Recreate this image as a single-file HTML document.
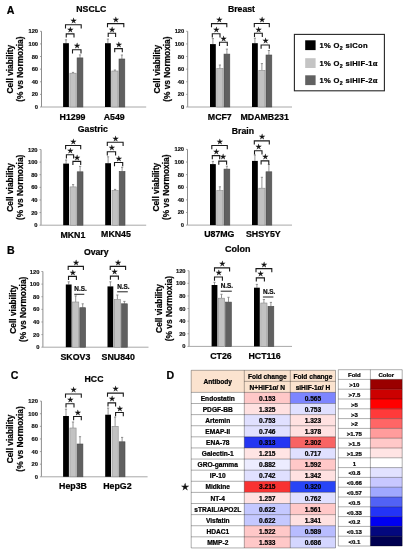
<!DOCTYPE html>
<html><head><meta charset="utf-8"><title>Figure</title>
<style>
html,body{margin:0;padding:0;background:#fff;}
body{width:408px;height:550px;overflow:hidden;}
svg{display:block;font-family:"Liberation Sans", Arial, sans-serif;}
</style></head>
<body>
<svg width="408" height="550" viewBox="0 0 408 550">
<rect x="0" y="0" width="408" height="550" fill="#fff"/>
<text x="0" y="0" font-size="8.35" font-weight="bold" text-anchor="middle" stroke="#000" stroke-width="0.22" transform="translate(13.40,69.15) rotate(-90)">Cell viability</text>
<text x="0" y="0" font-size="8.35" font-weight="bold" text-anchor="middle" stroke="#000" stroke-width="0.22" transform="translate(23.40,69.15) rotate(-90)">(% vs Normoxia)</text>
<line x1="41.50" y1="31.30" x2="41.50" y2="107.00" stroke="#808080" stroke-width="0.9"/>
<line x1="41.50" y1="107.00" x2="146.20" y2="107.00" stroke="#a8a8a8" stroke-width="1.0"/>
<line x1="40.00" y1="107.00" x2="41.50" y2="107.00" stroke="#8c8c8c" stroke-width="0.8"/>
<text x="38.10" y="109.00" font-size="5.8" font-weight="bold" text-anchor="end" fill="#111" stroke="#111" stroke-width="0.18" >0</text>
<line x1="40.00" y1="94.38" x2="41.50" y2="94.38" stroke="#8c8c8c" stroke-width="0.8"/>
<text x="38.10" y="96.38" font-size="5.8" font-weight="bold" text-anchor="end" fill="#111" stroke="#111" stroke-width="0.18" >20</text>
<line x1="40.00" y1="81.77" x2="41.50" y2="81.77" stroke="#8c8c8c" stroke-width="0.8"/>
<text x="38.10" y="83.77" font-size="5.8" font-weight="bold" text-anchor="end" fill="#111" stroke="#111" stroke-width="0.18" >40</text>
<line x1="40.00" y1="69.15" x2="41.50" y2="69.15" stroke="#8c8c8c" stroke-width="0.8"/>
<text x="38.10" y="71.15" font-size="5.8" font-weight="bold" text-anchor="end" fill="#111" stroke="#111" stroke-width="0.18" >60</text>
<line x1="40.00" y1="56.53" x2="41.50" y2="56.53" stroke="#8c8c8c" stroke-width="0.8"/>
<text x="38.10" y="58.53" font-size="5.8" font-weight="bold" text-anchor="end" fill="#111" stroke="#111" stroke-width="0.18" >80</text>
<line x1="40.00" y1="43.92" x2="41.50" y2="43.92" stroke="#8c8c8c" stroke-width="0.8"/>
<text x="38.10" y="45.92" font-size="5.8" font-weight="bold" text-anchor="end" fill="#111" stroke="#111" stroke-width="0.18" >100</text>
<line x1="40.00" y1="31.30" x2="41.50" y2="31.30" stroke="#8c8c8c" stroke-width="0.8"/>
<text x="38.10" y="33.30" font-size="5.8" font-weight="bold" text-anchor="end" fill="#111" stroke="#111" stroke-width="0.18" >120</text>
<text x="91.30" y="11.90" font-size="8.7" font-weight="bold" text-anchor="middle" fill="#000" stroke="#000" stroke-width="0.22" >NSCLC</text>
<line x1="66.00" y1="39.80" x2="66.00" y2="43.20" stroke="#7a7a7a" stroke-width="0.8"/>
<line x1="64.90" y1="39.80" x2="67.10" y2="39.80" stroke="#7a7a7a" stroke-width="0.8"/>
<rect x="63.10" y="43.20" width="5.80" height="63.80" fill="#000000"/>
<line x1="73.00" y1="72.40" x2="73.00" y2="73.20" stroke="#7a7a7a" stroke-width="0.8"/>
<line x1="71.90" y1="72.40" x2="74.10" y2="72.40" stroke="#7a7a7a" stroke-width="0.8"/>
<rect x="69.90" y="73.20" width="6.20" height="33.80" fill="#c2c2c2" stroke="#8a8a8a" stroke-width="0.6"/>
<line x1="80.00" y1="54.90" x2="80.00" y2="57.90" stroke="#7a7a7a" stroke-width="0.8"/>
<line x1="78.90" y1="54.90" x2="81.10" y2="54.90" stroke="#7a7a7a" stroke-width="0.8"/>
<rect x="77.10" y="57.90" width="5.80" height="49.10" fill="#606060" stroke="#4a4a4a" stroke-width="0.6"/>
<path d="M66.25,37.60 V33.90 H74.00 V37.60" fill="none" stroke="#1a1a1a" stroke-width="1.1"/>
<text x="70.42" y="32.28" font-size="6.9" font-family='"DejaVu Sans", sans-serif' text-anchor="middle" fill="#111" stroke="#111" stroke-width="0.35">&#9733;</text>
<path d="M65.50,28.40 V24.70 H81.20 V28.40" fill="none" stroke="#1a1a1a" stroke-width="1.1"/>
<text x="73.65" y="23.08" font-size="6.9" font-family='"DejaVu Sans", sans-serif' text-anchor="middle" fill="#111" stroke="#111" stroke-width="0.35">&#9733;</text>
<path d="M72.50,53.40 V49.70 H81.00 V53.40" fill="none" stroke="#1a1a1a" stroke-width="1.1"/>
<text x="77.05" y="48.08" font-size="6.9" font-family='"DejaVu Sans", sans-serif' text-anchor="middle" fill="#111" stroke="#111" stroke-width="0.35">&#9733;</text>
<text x="72.50" y="119.50" font-size="8.8" font-weight="bold" text-anchor="middle" fill="#000" stroke="#000" stroke-width="0.22" >H1299</text>
<line x1="107.90" y1="39.10" x2="107.90" y2="43.20" stroke="#7a7a7a" stroke-width="0.8"/>
<line x1="106.80" y1="39.10" x2="109.00" y2="39.10" stroke="#7a7a7a" stroke-width="0.8"/>
<rect x="105.00" y="43.20" width="5.80" height="63.80" fill="#000000"/>
<line x1="114.90" y1="70.00" x2="114.90" y2="71.00" stroke="#7a7a7a" stroke-width="0.8"/>
<line x1="113.80" y1="70.00" x2="116.00" y2="70.00" stroke="#7a7a7a" stroke-width="0.8"/>
<rect x="111.80" y="71.00" width="6.20" height="36.00" fill="#c2c2c2" stroke="#8a8a8a" stroke-width="0.6"/>
<line x1="121.90" y1="55.00" x2="121.90" y2="59.00" stroke="#7a7a7a" stroke-width="0.8"/>
<line x1="120.80" y1="55.00" x2="123.00" y2="55.00" stroke="#7a7a7a" stroke-width="0.8"/>
<rect x="119.00" y="59.00" width="5.80" height="48.00" fill="#606060" stroke="#4a4a4a" stroke-width="0.6"/>
<path d="M108.20,36.90 V33.20 H115.60 V36.90" fill="none" stroke="#1a1a1a" stroke-width="1.1"/>
<text x="112.20" y="31.58" font-size="6.9" font-family='"DejaVu Sans", sans-serif' text-anchor="middle" fill="#111" stroke="#111" stroke-width="0.35">&#9733;</text>
<path d="M107.50,27.30 V23.60 H123.80 V27.30" fill="none" stroke="#1a1a1a" stroke-width="1.1"/>
<text x="115.95" y="21.98" font-size="6.9" font-family='"DejaVu Sans", sans-serif' text-anchor="middle" fill="#111" stroke="#111" stroke-width="0.35">&#9733;</text>
<path d="M114.70,52.30 V48.60 H122.30 V52.30" fill="none" stroke="#1a1a1a" stroke-width="1.1"/>
<text x="118.80" y="46.98" font-size="6.9" font-family='"DejaVu Sans", sans-serif' text-anchor="middle" fill="#111" stroke="#111" stroke-width="0.35">&#9733;</text>
<text x="114.20" y="119.50" font-size="8.8" font-weight="bold" text-anchor="middle" fill="#000" stroke="#000" stroke-width="0.22" >A549</text>
<text x="0" y="0" font-size="8.35" font-weight="bold" text-anchor="middle" stroke="#000" stroke-width="0.22" transform="translate(159.60,69.15) rotate(-90)">Cell viability</text>
<text x="0" y="0" font-size="8.35" font-weight="bold" text-anchor="middle" stroke="#000" stroke-width="0.22" transform="translate(169.60,69.15) rotate(-90)">(% vs Normoxia)</text>
<line x1="187.70" y1="31.30" x2="187.70" y2="107.00" stroke="#808080" stroke-width="0.9"/>
<line x1="187.70" y1="107.00" x2="292.00" y2="107.00" stroke="#a8a8a8" stroke-width="1.0"/>
<line x1="186.20" y1="107.00" x2="187.70" y2="107.00" stroke="#8c8c8c" stroke-width="0.8"/>
<text x="184.30" y="109.00" font-size="5.8" font-weight="bold" text-anchor="end" fill="#111" stroke="#111" stroke-width="0.18" >0</text>
<line x1="186.20" y1="94.38" x2="187.70" y2="94.38" stroke="#8c8c8c" stroke-width="0.8"/>
<text x="184.30" y="96.38" font-size="5.8" font-weight="bold" text-anchor="end" fill="#111" stroke="#111" stroke-width="0.18" >20</text>
<line x1="186.20" y1="81.77" x2="187.70" y2="81.77" stroke="#8c8c8c" stroke-width="0.8"/>
<text x="184.30" y="83.77" font-size="5.8" font-weight="bold" text-anchor="end" fill="#111" stroke="#111" stroke-width="0.18" >40</text>
<line x1="186.20" y1="69.15" x2="187.70" y2="69.15" stroke="#8c8c8c" stroke-width="0.8"/>
<text x="184.30" y="71.15" font-size="5.8" font-weight="bold" text-anchor="end" fill="#111" stroke="#111" stroke-width="0.18" >60</text>
<line x1="186.20" y1="56.53" x2="187.70" y2="56.53" stroke="#8c8c8c" stroke-width="0.8"/>
<text x="184.30" y="58.53" font-size="5.8" font-weight="bold" text-anchor="end" fill="#111" stroke="#111" stroke-width="0.18" >80</text>
<line x1="186.20" y1="43.92" x2="187.70" y2="43.92" stroke="#8c8c8c" stroke-width="0.8"/>
<text x="184.30" y="45.92" font-size="5.8" font-weight="bold" text-anchor="end" fill="#111" stroke="#111" stroke-width="0.18" >100</text>
<line x1="186.20" y1="31.30" x2="187.70" y2="31.30" stroke="#8c8c8c" stroke-width="0.8"/>
<text x="184.30" y="33.30" font-size="5.8" font-weight="bold" text-anchor="end" fill="#111" stroke="#111" stroke-width="0.18" >120</text>
<text x="241.50" y="11.90" font-size="8.7" font-weight="bold" text-anchor="middle" fill="#000" stroke="#000" stroke-width="0.22" >Breast</text>
<line x1="212.90" y1="38.60" x2="212.90" y2="44.10" stroke="#7a7a7a" stroke-width="0.8"/>
<line x1="211.80" y1="38.60" x2="214.00" y2="38.60" stroke="#7a7a7a" stroke-width="0.8"/>
<rect x="210.00" y="44.10" width="5.80" height="62.90" fill="#000000"/>
<line x1="219.90" y1="65.00" x2="219.90" y2="68.60" stroke="#7a7a7a" stroke-width="0.8"/>
<line x1="218.80" y1="65.00" x2="221.00" y2="65.00" stroke="#7a7a7a" stroke-width="0.8"/>
<rect x="216.80" y="68.60" width="6.20" height="38.40" fill="#c2c2c2" stroke="#8a8a8a" stroke-width="0.6"/>
<line x1="226.90" y1="49.10" x2="226.90" y2="54.10" stroke="#7a7a7a" stroke-width="0.8"/>
<line x1="225.80" y1="49.10" x2="228.00" y2="49.10" stroke="#7a7a7a" stroke-width="0.8"/>
<rect x="224.00" y="54.10" width="5.80" height="52.90" fill="#606060" stroke="#4a4a4a" stroke-width="0.6"/>
<path d="M212.30,37.50 V33.80 H220.00 V37.50" fill="none" stroke="#1a1a1a" stroke-width="1.1"/>
<text x="216.45" y="32.18" font-size="6.9" font-family='"DejaVu Sans", sans-serif' text-anchor="middle" fill="#111" stroke="#111" stroke-width="0.35">&#9733;</text>
<path d="M211.50,27.30 V23.60 H226.80 V27.30" fill="none" stroke="#1a1a1a" stroke-width="1.1"/>
<text x="219.45" y="21.98" font-size="6.9" font-family='"DejaVu Sans", sans-serif' text-anchor="middle" fill="#111" stroke="#111" stroke-width="0.35">&#9733;</text>
<path d="M219.50,46.00 V42.30 H227.30 V46.00" fill="none" stroke="#1a1a1a" stroke-width="1.1"/>
<text x="223.70" y="40.68" font-size="6.9" font-family='"DejaVu Sans", sans-serif' text-anchor="middle" fill="#111" stroke="#111" stroke-width="0.35">&#9733;</text>
<text x="219.80" y="119.50" font-size="8.8" font-weight="bold" text-anchor="middle" fill="#000" stroke="#000" stroke-width="0.22" >MCF7</text>
<line x1="254.90" y1="38.20" x2="254.90" y2="43.20" stroke="#7a7a7a" stroke-width="0.8"/>
<line x1="253.80" y1="38.20" x2="256.00" y2="38.20" stroke="#7a7a7a" stroke-width="0.8"/>
<rect x="252.00" y="43.20" width="5.80" height="63.80" fill="#000000"/>
<line x1="261.90" y1="63.60" x2="261.90" y2="70.40" stroke="#7a7a7a" stroke-width="0.8"/>
<line x1="260.80" y1="63.60" x2="263.00" y2="63.60" stroke="#7a7a7a" stroke-width="0.8"/>
<rect x="258.80" y="70.40" width="6.20" height="36.60" fill="#c2c2c2" stroke="#8a8a8a" stroke-width="0.6"/>
<line x1="268.90" y1="50.50" x2="268.90" y2="55.00" stroke="#7a7a7a" stroke-width="0.8"/>
<line x1="267.80" y1="50.50" x2="270.00" y2="50.50" stroke="#7a7a7a" stroke-width="0.8"/>
<rect x="266.00" y="55.00" width="5.80" height="52.00" fill="#606060" stroke="#4a4a4a" stroke-width="0.6"/>
<path d="M254.50,36.90 V33.20 H262.30 V36.90" fill="none" stroke="#1a1a1a" stroke-width="1.1"/>
<text x="258.70" y="31.58" font-size="6.9" font-family='"DejaVu Sans", sans-serif' text-anchor="middle" fill="#111" stroke="#111" stroke-width="0.35">&#9733;</text>
<path d="M254.30,27.20 V23.50 H269.30 V27.20" fill="none" stroke="#1a1a1a" stroke-width="1.1"/>
<text x="262.10" y="21.88" font-size="6.9" font-family='"DejaVu Sans", sans-serif' text-anchor="middle" fill="#111" stroke="#111" stroke-width="0.35">&#9733;</text>
<path d="M261.10,48.70 V45.00 H269.30 V48.70" fill="none" stroke="#1a1a1a" stroke-width="1.1"/>
<text x="265.50" y="43.38" font-size="6.9" font-family='"DejaVu Sans", sans-serif' text-anchor="middle" fill="#111" stroke="#111" stroke-width="0.35">&#9733;</text>
<text x="264.70" y="119.50" font-size="8.8" font-weight="bold" text-anchor="middle" fill="#000" stroke="#000" stroke-width="0.22" >MDAMB231</text>
<text x="0" y="0" font-size="8.35" font-weight="bold" text-anchor="middle" stroke="#000" stroke-width="0.22" transform="translate(12.90,187.35) rotate(-90)">Cell viability</text>
<text x="0" y="0" font-size="8.35" font-weight="bold" text-anchor="middle" stroke="#000" stroke-width="0.22" transform="translate(22.90,187.35) rotate(-90)">(% vs Normoxia)</text>
<line x1="41.00" y1="149.50" x2="41.00" y2="225.20" stroke="#808080" stroke-width="0.9"/>
<line x1="41.00" y1="225.20" x2="146.20" y2="225.20" stroke="#a8a8a8" stroke-width="1.0"/>
<line x1="39.50" y1="225.20" x2="41.00" y2="225.20" stroke="#8c8c8c" stroke-width="0.8"/>
<text x="37.60" y="227.20" font-size="5.8" font-weight="bold" text-anchor="end" fill="#111" stroke="#111" stroke-width="0.18" >0</text>
<line x1="39.50" y1="212.58" x2="41.00" y2="212.58" stroke="#8c8c8c" stroke-width="0.8"/>
<text x="37.60" y="214.58" font-size="5.8" font-weight="bold" text-anchor="end" fill="#111" stroke="#111" stroke-width="0.18" >20</text>
<line x1="39.50" y1="199.97" x2="41.00" y2="199.97" stroke="#8c8c8c" stroke-width="0.8"/>
<text x="37.60" y="201.97" font-size="5.8" font-weight="bold" text-anchor="end" fill="#111" stroke="#111" stroke-width="0.18" >40</text>
<line x1="39.50" y1="187.35" x2="41.00" y2="187.35" stroke="#8c8c8c" stroke-width="0.8"/>
<text x="37.60" y="189.35" font-size="5.8" font-weight="bold" text-anchor="end" fill="#111" stroke="#111" stroke-width="0.18" >60</text>
<line x1="39.50" y1="174.73" x2="41.00" y2="174.73" stroke="#8c8c8c" stroke-width="0.8"/>
<text x="37.60" y="176.73" font-size="5.8" font-weight="bold" text-anchor="end" fill="#111" stroke="#111" stroke-width="0.18" >80</text>
<line x1="39.50" y1="162.12" x2="41.00" y2="162.12" stroke="#8c8c8c" stroke-width="0.8"/>
<text x="37.60" y="164.12" font-size="5.8" font-weight="bold" text-anchor="end" fill="#111" stroke="#111" stroke-width="0.18" >100</text>
<line x1="39.50" y1="149.50" x2="41.00" y2="149.50" stroke="#8c8c8c" stroke-width="0.8"/>
<text x="37.60" y="151.50" font-size="5.8" font-weight="bold" text-anchor="end" fill="#111" stroke="#111" stroke-width="0.18" >120</text>
<text x="92.80" y="132.30" font-size="8.7" font-weight="bold" text-anchor="middle" fill="#000" stroke="#000" stroke-width="0.22" >Gastric</text>
<line x1="66.10" y1="160.00" x2="66.10" y2="163.60" stroke="#7a7a7a" stroke-width="0.8"/>
<line x1="65.00" y1="160.00" x2="67.20" y2="160.00" stroke="#7a7a7a" stroke-width="0.8"/>
<rect x="63.20" y="163.60" width="5.80" height="61.60" fill="#000000"/>
<line x1="73.10" y1="184.60" x2="73.10" y2="186.90" stroke="#7a7a7a" stroke-width="0.8"/>
<line x1="72.00" y1="184.60" x2="74.20" y2="184.60" stroke="#7a7a7a" stroke-width="0.8"/>
<rect x="70.00" y="186.90" width="6.20" height="38.30" fill="#c2c2c2" stroke="#8a8a8a" stroke-width="0.6"/>
<line x1="80.10" y1="166.40" x2="80.10" y2="171.80" stroke="#7a7a7a" stroke-width="0.8"/>
<line x1="79.00" y1="166.40" x2="81.20" y2="166.40" stroke="#7a7a7a" stroke-width="0.8"/>
<rect x="77.20" y="171.80" width="5.80" height="53.40" fill="#606060" stroke="#4a4a4a" stroke-width="0.6"/>
<path d="M66.40,158.40 V154.70 H73.60 V158.40" fill="none" stroke="#1a1a1a" stroke-width="1.1"/>
<text x="70.30" y="153.08" font-size="6.9" font-family='"DejaVu Sans", sans-serif' text-anchor="middle" fill="#111" stroke="#111" stroke-width="0.35">&#9733;</text>
<path d="M65.60,149.20 V145.50 H80.70 V149.20" fill="none" stroke="#1a1a1a" stroke-width="1.1"/>
<text x="73.45" y="143.88" font-size="6.9" font-family='"DejaVu Sans", sans-serif' text-anchor="middle" fill="#111" stroke="#111" stroke-width="0.35">&#9733;</text>
<path d="M72.90,165.10 V161.40 H80.70 V165.10" fill="none" stroke="#1a1a1a" stroke-width="1.1"/>
<text x="77.10" y="159.78" font-size="6.9" font-family='"DejaVu Sans", sans-serif' text-anchor="middle" fill="#111" stroke="#111" stroke-width="0.35">&#9733;</text>
<text x="72.90" y="237.90" font-size="8.8" font-weight="bold" text-anchor="middle" fill="#000" stroke="#000" stroke-width="0.22" >MKN1</text>
<line x1="108.10" y1="156.80" x2="108.10" y2="163.20" stroke="#7a7a7a" stroke-width="0.8"/>
<line x1="107.00" y1="156.80" x2="109.20" y2="156.80" stroke="#7a7a7a" stroke-width="0.8"/>
<rect x="105.20" y="163.20" width="5.80" height="62.00" fill="#000000"/>
<line x1="115.10" y1="189.40" x2="115.10" y2="190.60" stroke="#7a7a7a" stroke-width="0.8"/>
<line x1="114.00" y1="189.40" x2="116.20" y2="189.40" stroke="#7a7a7a" stroke-width="0.8"/>
<rect x="112.00" y="190.60" width="6.20" height="34.60" fill="#c2c2c2" stroke="#8a8a8a" stroke-width="0.6"/>
<line x1="122.10" y1="167.30" x2="122.10" y2="171.40" stroke="#7a7a7a" stroke-width="0.8"/>
<line x1="121.00" y1="167.30" x2="123.20" y2="167.30" stroke="#7a7a7a" stroke-width="0.8"/>
<rect x="119.20" y="171.40" width="5.80" height="53.80" fill="#606060" stroke="#4a4a4a" stroke-width="0.6"/>
<path d="M107.30,155.50 V151.80 H115.60 V155.50" fill="none" stroke="#1a1a1a" stroke-width="1.1"/>
<text x="111.75" y="150.18" font-size="6.9" font-family='"DejaVu Sans", sans-serif' text-anchor="middle" fill="#111" stroke="#111" stroke-width="0.35">&#9733;</text>
<path d="M107.30,146.00 V142.30 H123.10 V146.00" fill="none" stroke="#1a1a1a" stroke-width="1.1"/>
<text x="115.50" y="140.68" font-size="6.9" font-family='"DejaVu Sans", sans-serif' text-anchor="middle" fill="#111" stroke="#111" stroke-width="0.35">&#9733;</text>
<path d="M114.50,166.20 V162.50 H122.70 V166.20" fill="none" stroke="#1a1a1a" stroke-width="1.1"/>
<text x="118.90" y="160.88" font-size="6.9" font-family='"DejaVu Sans", sans-serif' text-anchor="middle" fill="#111" stroke="#111" stroke-width="0.35">&#9733;</text>
<text x="116.00" y="236.50" font-size="8.8" font-weight="bold" text-anchor="middle" fill="#000" stroke="#000" stroke-width="0.22" >MKN45</text>
<text x="0" y="0" font-size="8.35" font-weight="bold" text-anchor="middle" stroke="#000" stroke-width="0.22" transform="translate(159.40,187.25) rotate(-90)">Cell viability</text>
<text x="0" y="0" font-size="8.35" font-weight="bold" text-anchor="middle" stroke="#000" stroke-width="0.22" transform="translate(169.40,187.25) rotate(-90)">(% vs Normoxia)</text>
<line x1="187.50" y1="149.40" x2="187.50" y2="225.10" stroke="#808080" stroke-width="0.9"/>
<line x1="187.50" y1="225.10" x2="292.00" y2="225.10" stroke="#a8a8a8" stroke-width="1.0"/>
<line x1="186.00" y1="225.10" x2="187.50" y2="225.10" stroke="#8c8c8c" stroke-width="0.8"/>
<text x="184.10" y="227.10" font-size="5.8" font-weight="bold" text-anchor="end" fill="#111" stroke="#111" stroke-width="0.18" >0</text>
<line x1="186.00" y1="212.48" x2="187.50" y2="212.48" stroke="#8c8c8c" stroke-width="0.8"/>
<text x="184.10" y="214.48" font-size="5.8" font-weight="bold" text-anchor="end" fill="#111" stroke="#111" stroke-width="0.18" >20</text>
<line x1="186.00" y1="199.87" x2="187.50" y2="199.87" stroke="#8c8c8c" stroke-width="0.8"/>
<text x="184.10" y="201.87" font-size="5.8" font-weight="bold" text-anchor="end" fill="#111" stroke="#111" stroke-width="0.18" >40</text>
<line x1="186.00" y1="187.25" x2="187.50" y2="187.25" stroke="#8c8c8c" stroke-width="0.8"/>
<text x="184.10" y="189.25" font-size="5.8" font-weight="bold" text-anchor="end" fill="#111" stroke="#111" stroke-width="0.18" >60</text>
<line x1="186.00" y1="174.63" x2="187.50" y2="174.63" stroke="#8c8c8c" stroke-width="0.8"/>
<text x="184.10" y="176.63" font-size="5.8" font-weight="bold" text-anchor="end" fill="#111" stroke="#111" stroke-width="0.18" >80</text>
<line x1="186.00" y1="162.02" x2="187.50" y2="162.02" stroke="#8c8c8c" stroke-width="0.8"/>
<text x="184.10" y="164.02" font-size="5.8" font-weight="bold" text-anchor="end" fill="#111" stroke="#111" stroke-width="0.18" >100</text>
<line x1="186.00" y1="149.40" x2="187.50" y2="149.40" stroke="#8c8c8c" stroke-width="0.8"/>
<text x="184.10" y="151.40" font-size="5.8" font-weight="bold" text-anchor="end" fill="#111" stroke="#111" stroke-width="0.18" >120</text>
<text x="242.90" y="134.20" font-size="8.7" font-weight="bold" text-anchor="middle" fill="#000" stroke="#000" stroke-width="0.22" >Brain</text>
<line x1="212.90" y1="161.40" x2="212.90" y2="164.10" stroke="#7a7a7a" stroke-width="0.8"/>
<line x1="211.80" y1="161.40" x2="214.00" y2="161.40" stroke="#7a7a7a" stroke-width="0.8"/>
<rect x="210.00" y="164.10" width="5.80" height="61.00" fill="#000000"/>
<line x1="219.90" y1="186.80" x2="219.90" y2="190.60" stroke="#7a7a7a" stroke-width="0.8"/>
<line x1="218.80" y1="186.80" x2="221.00" y2="186.80" stroke="#7a7a7a" stroke-width="0.8"/>
<rect x="216.80" y="190.60" width="6.20" height="34.50" fill="#c2c2c2" stroke="#8a8a8a" stroke-width="0.6"/>
<line x1="226.90" y1="166.20" x2="226.90" y2="169.10" stroke="#7a7a7a" stroke-width="0.8"/>
<line x1="225.80" y1="166.20" x2="228.00" y2="166.20" stroke="#7a7a7a" stroke-width="0.8"/>
<rect x="224.00" y="169.10" width="5.80" height="56.00" fill="#606060" stroke="#4a4a4a" stroke-width="0.6"/>
<path d="M212.30,159.30 V155.60 H219.70 V159.30" fill="none" stroke="#1a1a1a" stroke-width="1.1"/>
<text x="216.30" y="153.98" font-size="6.9" font-family='"DejaVu Sans", sans-serif' text-anchor="middle" fill="#111" stroke="#111" stroke-width="0.35">&#9733;</text>
<path d="M211.80,149.20 V145.50 H227.30 V149.20" fill="none" stroke="#1a1a1a" stroke-width="1.1"/>
<text x="219.85" y="143.88" font-size="6.9" font-family='"DejaVu Sans", sans-serif' text-anchor="middle" fill="#111" stroke="#111" stroke-width="0.35">&#9733;</text>
<path d="M218.80,164.80 V161.10 H226.60 V164.80" fill="none" stroke="#1a1a1a" stroke-width="1.1"/>
<text x="223.00" y="159.48" font-size="6.9" font-family='"DejaVu Sans", sans-serif' text-anchor="middle" fill="#111" stroke="#111" stroke-width="0.35">&#9733;</text>
<text x="219.30" y="237.30" font-size="8.8" font-weight="bold" text-anchor="middle" fill="#000" stroke="#000" stroke-width="0.22" >U87MG</text>
<line x1="254.90" y1="155.00" x2="254.90" y2="160.90" stroke="#7a7a7a" stroke-width="0.8"/>
<line x1="253.80" y1="155.00" x2="256.00" y2="155.00" stroke="#7a7a7a" stroke-width="0.8"/>
<rect x="252.00" y="160.90" width="5.80" height="64.20" fill="#000000"/>
<line x1="261.90" y1="177.30" x2="261.90" y2="188.20" stroke="#7a7a7a" stroke-width="0.8"/>
<line x1="260.80" y1="177.30" x2="263.00" y2="177.30" stroke="#7a7a7a" stroke-width="0.8"/>
<rect x="258.80" y="188.20" width="6.20" height="36.90" fill="#c2c2c2" stroke="#8a8a8a" stroke-width="0.6"/>
<line x1="268.90" y1="164.50" x2="268.90" y2="171.80" stroke="#7a7a7a" stroke-width="0.8"/>
<line x1="267.80" y1="164.50" x2="270.00" y2="164.50" stroke="#7a7a7a" stroke-width="0.8"/>
<rect x="266.00" y="171.80" width="5.80" height="53.30" fill="#606060" stroke="#4a4a4a" stroke-width="0.6"/>
<path d="M254.50,154.40 V150.70 H262.00 V154.40" fill="none" stroke="#1a1a1a" stroke-width="1.1"/>
<text x="258.55" y="149.08" font-size="6.9" font-family='"DejaVu Sans", sans-serif' text-anchor="middle" fill="#111" stroke="#111" stroke-width="0.35">&#9733;</text>
<path d="M254.30,144.60 V140.90 H269.30 V144.60" fill="none" stroke="#1a1a1a" stroke-width="1.1"/>
<text x="262.10" y="139.28" font-size="6.9" font-family='"DejaVu Sans", sans-serif' text-anchor="middle" fill="#111" stroke="#111" stroke-width="0.35">&#9733;</text>
<path d="M261.10,164.60 V160.90 H268.80 V164.60" fill="none" stroke="#1a1a1a" stroke-width="1.1"/>
<text x="265.25" y="159.28" font-size="6.9" font-family='"DejaVu Sans", sans-serif' text-anchor="middle" fill="#111" stroke="#111" stroke-width="0.35">&#9733;</text>
<text x="263.30" y="237.30" font-size="8.8" font-weight="bold" text-anchor="middle" fill="#000" stroke="#000" stroke-width="0.22" >SHSY5Y</text>
<text x="0" y="0" font-size="8.35" font-weight="bold" text-anchor="middle" stroke="#000" stroke-width="0.22" transform="translate(15.60,309.35) rotate(-90)">Cell viability</text>
<text x="0" y="0" font-size="8.35" font-weight="bold" text-anchor="middle" stroke="#000" stroke-width="0.22" transform="translate(25.70,309.35) rotate(-90)">(% vs Normoxia)</text>
<line x1="42.90" y1="271.50" x2="42.90" y2="347.20" stroke="#808080" stroke-width="0.9"/>
<line x1="42.90" y1="347.20" x2="148.50" y2="347.20" stroke="#a8a8a8" stroke-width="1.0"/>
<line x1="41.40" y1="347.20" x2="42.90" y2="347.20" stroke="#8c8c8c" stroke-width="0.8"/>
<text x="39.50" y="349.20" font-size="5.8" font-weight="bold" text-anchor="end" fill="#111" stroke="#111" stroke-width="0.18" >0</text>
<line x1="41.40" y1="334.58" x2="42.90" y2="334.58" stroke="#8c8c8c" stroke-width="0.8"/>
<text x="39.50" y="336.58" font-size="5.8" font-weight="bold" text-anchor="end" fill="#111" stroke="#111" stroke-width="0.18" >20</text>
<line x1="41.40" y1="321.97" x2="42.90" y2="321.97" stroke="#8c8c8c" stroke-width="0.8"/>
<text x="39.50" y="323.97" font-size="5.8" font-weight="bold" text-anchor="end" fill="#111" stroke="#111" stroke-width="0.18" >40</text>
<line x1="41.40" y1="309.35" x2="42.90" y2="309.35" stroke="#8c8c8c" stroke-width="0.8"/>
<text x="39.50" y="311.35" font-size="5.8" font-weight="bold" text-anchor="end" fill="#111" stroke="#111" stroke-width="0.18" >60</text>
<line x1="41.40" y1="296.73" x2="42.90" y2="296.73" stroke="#8c8c8c" stroke-width="0.8"/>
<text x="39.50" y="298.73" font-size="5.8" font-weight="bold" text-anchor="end" fill="#111" stroke="#111" stroke-width="0.18" >80</text>
<line x1="41.40" y1="284.12" x2="42.90" y2="284.12" stroke="#8c8c8c" stroke-width="0.8"/>
<text x="39.50" y="286.12" font-size="5.8" font-weight="bold" text-anchor="end" fill="#111" stroke="#111" stroke-width="0.18" >100</text>
<line x1="41.40" y1="271.50" x2="42.90" y2="271.50" stroke="#8c8c8c" stroke-width="0.8"/>
<text x="39.50" y="273.50" font-size="5.8" font-weight="bold" text-anchor="end" fill="#111" stroke="#111" stroke-width="0.18" >120</text>
<text x="96.20" y="255.40" font-size="8.7" font-weight="bold" text-anchor="middle" fill="#000" stroke="#000" stroke-width="0.22" >Ovary</text>
<line x1="68.70" y1="281.80" x2="68.70" y2="284.50" stroke="#7a7a7a" stroke-width="0.8"/>
<line x1="67.60" y1="281.80" x2="69.80" y2="281.80" stroke="#7a7a7a" stroke-width="0.8"/>
<rect x="65.80" y="284.50" width="5.80" height="62.70" fill="#000000"/>
<line x1="75.70" y1="295.90" x2="75.70" y2="302.00" stroke="#7a7a7a" stroke-width="0.8"/>
<line x1="74.60" y1="295.90" x2="76.80" y2="295.90" stroke="#7a7a7a" stroke-width="0.8"/>
<rect x="72.60" y="302.00" width="6.20" height="45.20" fill="#c2c2c2" stroke="#8a8a8a" stroke-width="0.6"/>
<line x1="82.70" y1="303.80" x2="82.70" y2="307.70" stroke="#7a7a7a" stroke-width="0.8"/>
<line x1="81.60" y1="303.80" x2="83.80" y2="303.80" stroke="#7a7a7a" stroke-width="0.8"/>
<rect x="79.80" y="307.70" width="5.80" height="39.50" fill="#606060" stroke="#4a4a4a" stroke-width="0.6"/>
<path d="M68.50,280.10 V276.40 H76.40 V280.10" fill="none" stroke="#1a1a1a" stroke-width="1.1"/>
<text x="72.75" y="274.78" font-size="6.9" font-family='"DejaVu Sans", sans-serif' text-anchor="middle" fill="#111" stroke="#111" stroke-width="0.35">&#9733;</text>
<path d="M68.20,270.10 V266.40 H83.40 V270.10" fill="none" stroke="#1a1a1a" stroke-width="1.1"/>
<text x="76.10" y="264.78" font-size="6.9" font-family='"DejaVu Sans", sans-serif' text-anchor="middle" fill="#111" stroke="#111" stroke-width="0.35">&#9733;</text>
<line x1="74.30" y1="294.30" x2="84.30" y2="294.30" stroke="#222" stroke-width="1.0"/>
<text x="74.30" y="291.30" font-size="6.4" font-weight="bold" text-anchor="start" fill="#111" stroke="#111" stroke-width="0.22" >N.S.</text>
<text x="75.40" y="359.80" font-size="8.8" font-weight="bold" text-anchor="middle" fill="#000" stroke="#000" stroke-width="0.22" >SKOV3</text>
<line x1="110.40" y1="281.80" x2="110.40" y2="286.40" stroke="#7a7a7a" stroke-width="0.8"/>
<line x1="109.30" y1="281.80" x2="111.50" y2="281.80" stroke="#7a7a7a" stroke-width="0.8"/>
<rect x="107.50" y="286.40" width="5.80" height="60.80" fill="#000000"/>
<line x1="117.40" y1="295.00" x2="117.40" y2="299.50" stroke="#7a7a7a" stroke-width="0.8"/>
<line x1="116.30" y1="295.00" x2="118.50" y2="295.00" stroke="#7a7a7a" stroke-width="0.8"/>
<rect x="114.30" y="299.50" width="6.20" height="47.70" fill="#c2c2c2" stroke="#8a8a8a" stroke-width="0.6"/>
<line x1="124.40" y1="301.40" x2="124.40" y2="303.80" stroke="#7a7a7a" stroke-width="0.8"/>
<line x1="123.30" y1="301.40" x2="125.50" y2="301.40" stroke="#7a7a7a" stroke-width="0.8"/>
<rect x="121.50" y="303.80" width="5.80" height="43.40" fill="#606060" stroke="#4a4a4a" stroke-width="0.6"/>
<path d="M110.40,279.80 V276.10 H118.40 V279.80" fill="none" stroke="#1a1a1a" stroke-width="1.1"/>
<text x="114.70" y="274.48" font-size="6.9" font-family='"DejaVu Sans", sans-serif' text-anchor="middle" fill="#111" stroke="#111" stroke-width="0.35">&#9733;</text>
<path d="M110.20,270.10 V266.40 H125.60 V270.10" fill="none" stroke="#1a1a1a" stroke-width="1.1"/>
<text x="118.20" y="264.78" font-size="6.9" font-family='"DejaVu Sans", sans-serif' text-anchor="middle" fill="#111" stroke="#111" stroke-width="0.35">&#9733;</text>
<line x1="117.20" y1="291.80" x2="127.80" y2="291.80" stroke="#222" stroke-width="1.0"/>
<text x="117.20" y="288.80" font-size="6.4" font-weight="bold" text-anchor="start" fill="#111" stroke="#111" stroke-width="0.22" >N.S.</text>
<text x="118.20" y="359.80" font-size="8.8" font-weight="bold" text-anchor="middle" fill="#000" stroke="#000" stroke-width="0.22" >SNU840</text>
<text x="0" y="0" font-size="8.35" font-weight="bold" text-anchor="middle" stroke="#000" stroke-width="0.22" transform="translate(161.50,308.55) rotate(-90)">Cell viability</text>
<text x="0" y="0" font-size="8.35" font-weight="bold" text-anchor="middle" stroke="#000" stroke-width="0.22" transform="translate(171.70,308.55) rotate(-90)">(% vs Normoxia)</text>
<line x1="189.00" y1="270.70" x2="189.00" y2="346.40" stroke="#808080" stroke-width="0.9"/>
<line x1="189.00" y1="346.40" x2="292.00" y2="346.40" stroke="#a8a8a8" stroke-width="1.0"/>
<line x1="187.50" y1="346.40" x2="189.00" y2="346.40" stroke="#8c8c8c" stroke-width="0.8"/>
<text x="185.60" y="348.40" font-size="5.8" font-weight="bold" text-anchor="end" fill="#111" stroke="#111" stroke-width="0.18" >0</text>
<line x1="187.50" y1="333.78" x2="189.00" y2="333.78" stroke="#8c8c8c" stroke-width="0.8"/>
<text x="185.60" y="335.78" font-size="5.8" font-weight="bold" text-anchor="end" fill="#111" stroke="#111" stroke-width="0.18" >20</text>
<line x1="187.50" y1="321.17" x2="189.00" y2="321.17" stroke="#8c8c8c" stroke-width="0.8"/>
<text x="185.60" y="323.17" font-size="5.8" font-weight="bold" text-anchor="end" fill="#111" stroke="#111" stroke-width="0.18" >40</text>
<line x1="187.50" y1="308.55" x2="189.00" y2="308.55" stroke="#8c8c8c" stroke-width="0.8"/>
<text x="185.60" y="310.55" font-size="5.8" font-weight="bold" text-anchor="end" fill="#111" stroke="#111" stroke-width="0.18" >60</text>
<line x1="187.50" y1="295.93" x2="189.00" y2="295.93" stroke="#8c8c8c" stroke-width="0.8"/>
<text x="185.60" y="297.93" font-size="5.8" font-weight="bold" text-anchor="end" fill="#111" stroke="#111" stroke-width="0.18" >80</text>
<line x1="187.50" y1="283.32" x2="189.00" y2="283.32" stroke="#8c8c8c" stroke-width="0.8"/>
<text x="185.60" y="285.32" font-size="5.8" font-weight="bold" text-anchor="end" fill="#111" stroke="#111" stroke-width="0.18" >100</text>
<line x1="187.50" y1="270.70" x2="189.00" y2="270.70" stroke="#8c8c8c" stroke-width="0.8"/>
<text x="185.60" y="272.70" font-size="5.8" font-weight="bold" text-anchor="end" fill="#111" stroke="#111" stroke-width="0.18" >120</text>
<text x="237.70" y="252.00" font-size="9.0" font-weight="bold" text-anchor="middle" fill="#000" stroke="#000" stroke-width="0.22" >Colon</text>
<line x1="214.50" y1="282.30" x2="214.50" y2="285.00" stroke="#7a7a7a" stroke-width="0.8"/>
<line x1="213.40" y1="282.30" x2="215.60" y2="282.30" stroke="#7a7a7a" stroke-width="0.8"/>
<rect x="211.60" y="285.00" width="5.80" height="61.40" fill="#000000"/>
<line x1="221.50" y1="294.30" x2="221.50" y2="298.20" stroke="#7a7a7a" stroke-width="0.8"/>
<line x1="220.40" y1="294.30" x2="222.60" y2="294.30" stroke="#7a7a7a" stroke-width="0.8"/>
<rect x="218.40" y="298.20" width="6.20" height="48.20" fill="#c2c2c2" stroke="#8a8a8a" stroke-width="0.6"/>
<line x1="228.50" y1="297.30" x2="228.50" y2="302.10" stroke="#7a7a7a" stroke-width="0.8"/>
<line x1="227.40" y1="297.30" x2="229.60" y2="297.30" stroke="#7a7a7a" stroke-width="0.8"/>
<rect x="225.60" y="302.10" width="5.80" height="44.30" fill="#606060" stroke="#4a4a4a" stroke-width="0.6"/>
<path d="M214.50,280.70 V277.00 H222.40 V280.70" fill="none" stroke="#1a1a1a" stroke-width="1.1"/>
<text x="218.75" y="275.38" font-size="6.9" font-family='"DejaVu Sans", sans-serif' text-anchor="middle" fill="#111" stroke="#111" stroke-width="0.35">&#9733;</text>
<path d="M214.50,271.60 V267.90 H229.60 V271.60" fill="none" stroke="#1a1a1a" stroke-width="1.1"/>
<text x="222.35" y="266.28" font-size="6.9" font-family='"DejaVu Sans", sans-serif' text-anchor="middle" fill="#111" stroke="#111" stroke-width="0.35">&#9733;</text>
<line x1="220.70" y1="291.20" x2="231.80" y2="291.20" stroke="#222" stroke-width="1.0"/>
<text x="220.70" y="288.20" font-size="6.4" font-weight="bold" text-anchor="start" fill="#111" stroke="#111" stroke-width="0.22" >N.S.</text>
<text x="221.00" y="358.80" font-size="8.8" font-weight="bold" text-anchor="middle" fill="#000" stroke="#000" stroke-width="0.22" >CT26</text>
<line x1="256.90" y1="284.40" x2="256.90" y2="287.70" stroke="#7a7a7a" stroke-width="0.8"/>
<line x1="255.80" y1="284.40" x2="258.00" y2="284.40" stroke="#7a7a7a" stroke-width="0.8"/>
<rect x="254.00" y="287.70" width="5.80" height="58.70" fill="#000000"/>
<line x1="263.90" y1="299.50" x2="263.90" y2="303.00" stroke="#7a7a7a" stroke-width="0.8"/>
<line x1="262.80" y1="299.50" x2="265.00" y2="299.50" stroke="#7a7a7a" stroke-width="0.8"/>
<rect x="260.80" y="303.00" width="6.20" height="43.40" fill="#c2c2c2" stroke="#8a8a8a" stroke-width="0.6"/>
<line x1="270.90" y1="302.40" x2="270.90" y2="306.30" stroke="#7a7a7a" stroke-width="0.8"/>
<line x1="269.80" y1="302.40" x2="272.00" y2="302.40" stroke="#7a7a7a" stroke-width="0.8"/>
<rect x="268.00" y="306.30" width="5.80" height="40.10" fill="#606060" stroke="#4a4a4a" stroke-width="0.6"/>
<path d="M256.30,281.60 V277.90 H264.40 V281.60" fill="none" stroke="#1a1a1a" stroke-width="1.1"/>
<text x="260.65" y="276.28" font-size="6.9" font-family='"DejaVu Sans", sans-serif' text-anchor="middle" fill="#111" stroke="#111" stroke-width="0.35">&#9733;</text>
<path d="M256.00,272.30 V268.60 H271.80 V272.30" fill="none" stroke="#1a1a1a" stroke-width="1.1"/>
<text x="264.20" y="266.98" font-size="6.9" font-family='"DejaVu Sans", sans-serif' text-anchor="middle" fill="#111" stroke="#111" stroke-width="0.35">&#9733;</text>
<line x1="262.90" y1="297.00" x2="273.40" y2="297.00" stroke="#222" stroke-width="1.0"/>
<text x="262.90" y="294.00" font-size="6.4" font-weight="bold" text-anchor="start" fill="#111" stroke="#111" stroke-width="0.22" >N.S.</text>
<text x="264.60" y="358.80" font-size="8.8" font-weight="bold" text-anchor="middle" fill="#000" stroke="#000" stroke-width="0.22" >HCT116</text>
<text x="0" y="0" font-size="8.35" font-weight="bold" text-anchor="middle" stroke="#000" stroke-width="0.22" transform="translate(13.30,438.95) rotate(-90)">Cell viability</text>
<text x="0" y="0" font-size="8.35" font-weight="bold" text-anchor="middle" stroke="#000" stroke-width="0.22" transform="translate(23.30,438.95) rotate(-90)">(% vs Normoxia)</text>
<line x1="41.40" y1="401.10" x2="41.40" y2="476.80" stroke="#808080" stroke-width="0.9"/>
<line x1="41.40" y1="476.80" x2="147.60" y2="476.80" stroke="#a8a8a8" stroke-width="1.0"/>
<line x1="39.90" y1="476.80" x2="41.40" y2="476.80" stroke="#8c8c8c" stroke-width="0.8"/>
<text x="38.00" y="478.80" font-size="5.8" font-weight="bold" text-anchor="end" fill="#111" stroke="#111" stroke-width="0.18" >0</text>
<line x1="39.90" y1="464.18" x2="41.40" y2="464.18" stroke="#8c8c8c" stroke-width="0.8"/>
<text x="38.00" y="466.18" font-size="5.8" font-weight="bold" text-anchor="end" fill="#111" stroke="#111" stroke-width="0.18" >20</text>
<line x1="39.90" y1="451.57" x2="41.40" y2="451.57" stroke="#8c8c8c" stroke-width="0.8"/>
<text x="38.00" y="453.57" font-size="5.8" font-weight="bold" text-anchor="end" fill="#111" stroke="#111" stroke-width="0.18" >40</text>
<line x1="39.90" y1="438.95" x2="41.40" y2="438.95" stroke="#8c8c8c" stroke-width="0.8"/>
<text x="38.00" y="440.95" font-size="5.8" font-weight="bold" text-anchor="end" fill="#111" stroke="#111" stroke-width="0.18" >60</text>
<line x1="39.90" y1="426.33" x2="41.40" y2="426.33" stroke="#8c8c8c" stroke-width="0.8"/>
<text x="38.00" y="428.33" font-size="5.8" font-weight="bold" text-anchor="end" fill="#111" stroke="#111" stroke-width="0.18" >80</text>
<line x1="39.90" y1="413.72" x2="41.40" y2="413.72" stroke="#8c8c8c" stroke-width="0.8"/>
<text x="38.00" y="415.72" font-size="5.8" font-weight="bold" text-anchor="end" fill="#111" stroke="#111" stroke-width="0.18" >100</text>
<line x1="39.90" y1="401.10" x2="41.40" y2="401.10" stroke="#8c8c8c" stroke-width="0.8"/>
<text x="38.00" y="403.10" font-size="5.8" font-weight="bold" text-anchor="end" fill="#111" stroke="#111" stroke-width="0.18" >120</text>
<text x="94.00" y="381.90" font-size="8.7" font-weight="bold" text-anchor="middle" fill="#000" stroke="#000" stroke-width="0.22" >HCC</text>
<line x1="66.00" y1="409.20" x2="66.00" y2="416.00" stroke="#7a7a7a" stroke-width="0.8"/>
<line x1="64.90" y1="409.20" x2="67.10" y2="409.20" stroke="#7a7a7a" stroke-width="0.8"/>
<rect x="63.10" y="416.00" width="5.80" height="60.80" fill="#000000"/>
<line x1="73.00" y1="422.00" x2="73.00" y2="428.00" stroke="#7a7a7a" stroke-width="0.8"/>
<line x1="71.90" y1="422.00" x2="74.10" y2="422.00" stroke="#7a7a7a" stroke-width="0.8"/>
<rect x="69.90" y="428.00" width="6.20" height="48.80" fill="#c2c2c2" stroke="#8a8a8a" stroke-width="0.6"/>
<line x1="80.00" y1="436.70" x2="80.00" y2="444.00" stroke="#7a7a7a" stroke-width="0.8"/>
<line x1="78.90" y1="436.70" x2="81.10" y2="436.70" stroke="#7a7a7a" stroke-width="0.8"/>
<rect x="77.10" y="444.00" width="5.80" height="32.80" fill="#606060" stroke="#4a4a4a" stroke-width="0.6"/>
<path d="M66.00,407.50 V403.80 H74.00 V407.50" fill="none" stroke="#1a1a1a" stroke-width="1.1"/>
<text x="70.30" y="402.18" font-size="6.9" font-family='"DejaVu Sans", sans-serif' text-anchor="middle" fill="#111" stroke="#111" stroke-width="0.35">&#9733;</text>
<path d="M65.50,397.70 V394.00 H81.30 V397.70" fill="none" stroke="#1a1a1a" stroke-width="1.1"/>
<text x="73.70" y="392.38" font-size="6.9" font-family='"DejaVu Sans", sans-serif' text-anchor="middle" fill="#111" stroke="#111" stroke-width="0.35">&#9733;</text>
<path d="M73.60,420.20 V416.50 H81.30 V420.20" fill="none" stroke="#1a1a1a" stroke-width="1.1"/>
<text x="77.75" y="414.88" font-size="6.9" font-family='"DejaVu Sans", sans-serif' text-anchor="middle" fill="#111" stroke="#111" stroke-width="0.35">&#9733;</text>
<text x="73.00" y="489.30" font-size="8.8" font-weight="bold" text-anchor="middle" fill="#000" stroke="#000" stroke-width="0.22" >Hep3B</text>
<line x1="108.10" y1="408.10" x2="108.10" y2="414.70" stroke="#7a7a7a" stroke-width="0.8"/>
<line x1="107.00" y1="408.10" x2="109.20" y2="408.10" stroke="#7a7a7a" stroke-width="0.8"/>
<rect x="105.20" y="414.70" width="5.80" height="62.10" fill="#000000"/>
<line x1="115.10" y1="417.10" x2="115.10" y2="426.30" stroke="#7a7a7a" stroke-width="0.8"/>
<line x1="114.00" y1="417.10" x2="116.20" y2="417.10" stroke="#7a7a7a" stroke-width="0.8"/>
<rect x="112.00" y="426.30" width="6.20" height="50.50" fill="#c2c2c2" stroke="#8a8a8a" stroke-width="0.6"/>
<line x1="122.10" y1="437.40" x2="122.10" y2="441.80" stroke="#7a7a7a" stroke-width="0.8"/>
<line x1="121.00" y1="437.40" x2="123.20" y2="437.40" stroke="#7a7a7a" stroke-width="0.8"/>
<rect x="119.20" y="441.80" width="5.80" height="35.00" fill="#606060" stroke="#4a4a4a" stroke-width="0.6"/>
<path d="M108.00,406.60 V402.90 H115.60 V406.60" fill="none" stroke="#1a1a1a" stroke-width="1.1"/>
<text x="112.10" y="401.28" font-size="6.9" font-family='"DejaVu Sans", sans-serif' text-anchor="middle" fill="#111" stroke="#111" stroke-width="0.35">&#9733;</text>
<path d="M107.50,396.80 V393.10 H123.30 V396.80" fill="none" stroke="#1a1a1a" stroke-width="1.1"/>
<text x="115.70" y="391.48" font-size="6.9" font-family='"DejaVu Sans", sans-serif' text-anchor="middle" fill="#111" stroke="#111" stroke-width="0.35">&#9733;</text>
<path d="M115.60,416.20 V412.50 H123.30 V416.20" fill="none" stroke="#1a1a1a" stroke-width="1.1"/>
<text x="119.75" y="410.88" font-size="6.9" font-family='"DejaVu Sans", sans-serif' text-anchor="middle" fill="#111" stroke="#111" stroke-width="0.35">&#9733;</text>
<text x="117.40" y="489.30" font-size="8.8" font-weight="bold" text-anchor="middle" fill="#000" stroke="#000" stroke-width="0.22" >HepG2</text>
<text x="10.50" y="14.20" font-size="10.6" font-weight="bold" text-anchor="middle" fill="#000" stroke="#000" stroke-width="0.22" >A</text>
<text x="10.90" y="253.60" font-size="10.6" font-weight="bold" text-anchor="middle" fill="#000" stroke="#000" stroke-width="0.22" >B</text>
<text x="14.70" y="378.50" font-size="10.6" font-weight="bold" text-anchor="middle" fill="#000" stroke="#000" stroke-width="0.22" >C</text>
<text x="170.30" y="379.20" font-size="10.6" font-weight="bold" text-anchor="middle" fill="#000" stroke="#000" stroke-width="0.22" >D</text>
<rect x="294.40" y="34.40" width="90.00" height="56.40" fill="#fff" stroke="#262626" stroke-width="1.1"/>
<rect x="305.20" y="40.30" width="10.40" height="9.80" fill="#000"/>
<text x="319.6" y="47.90" font-size="7.6" font-weight="bold" letter-spacing="0.3" stroke="#000" stroke-width="0.22">1% O<tspan font-size="5.2" dy="1.7">2</tspan><tspan dy="-1.7"> siCon</tspan></text>
<rect x="305.20" y="58.20" width="10.40" height="9.80" fill="#c4c4c4"/>
<text x="319.6" y="65.80" font-size="7.6" font-weight="bold" letter-spacing="0.3" stroke="#000" stroke-width="0.22">1% O<tspan font-size="5.2" dy="1.7">2</tspan><tspan dy="-1.7"> siHIF-1<tspan font-family="Liberation Serif" font-size="8.4">&#945;</tspan></tspan></text>
<rect x="305.20" y="75.30" width="10.40" height="9.80" fill="#616161"/>
<text x="319.6" y="82.90" font-size="7.6" font-weight="bold" letter-spacing="0.3" stroke="#000" stroke-width="0.22">1% O<tspan font-size="5.2" dy="1.7">2</tspan><tspan dy="-1.7"> siHIF-2<tspan font-family="Liberation Serif" font-size="8.4">&#945;</tspan></tspan></text>
<rect x="191.20" y="370.30" width="144.30" height="22.10" fill="#fbe3cf"/>
<rect x="191.20" y="392.40" width="53.10" height="11.11" fill="#fff"/>
<rect x="244.30" y="392.40" width="46.00" height="11.11" fill="#ffc8c8"/>
<rect x="290.30" y="392.40" width="45.20" height="11.11" fill="#7d85ff"/>
<rect x="191.20" y="403.51" width="53.10" height="11.11" fill="#fff"/>
<rect x="244.30" y="403.51" width="46.00" height="11.11" fill="#ffe1e1"/>
<rect x="290.30" y="403.51" width="45.20" height="11.11" fill="#e0e0ff"/>
<rect x="191.20" y="414.62" width="53.10" height="11.11" fill="#fff"/>
<rect x="244.30" y="414.62" width="46.00" height="11.11" fill="#e0e0ff"/>
<rect x="290.30" y="414.62" width="45.20" height="11.11" fill="#ffe1e1"/>
<rect x="191.20" y="425.73" width="53.10" height="11.11" fill="#fff"/>
<rect x="244.30" y="425.73" width="46.00" height="11.11" fill="#e0e0ff"/>
<rect x="290.30" y="425.73" width="45.20" height="11.11" fill="#ffe1e1"/>
<rect x="191.20" y="436.84" width="53.10" height="11.11" fill="#fff"/>
<rect x="244.30" y="436.84" width="46.00" height="11.11" fill="#2535f2"/>
<rect x="290.30" y="436.84" width="45.20" height="11.11" fill="#f86464"/>
<rect x="191.20" y="447.95" width="53.10" height="11.11" fill="#fff"/>
<rect x="244.30" y="447.95" width="46.00" height="11.11" fill="#ffe4e4"/>
<rect x="290.30" y="447.95" width="45.20" height="11.11" fill="#e0e0ff"/>
<rect x="191.20" y="459.06" width="53.10" height="11.11" fill="#fff"/>
<rect x="244.30" y="459.06" width="46.00" height="11.11" fill="#ececff"/>
<rect x="290.30" y="459.06" width="45.20" height="11.11" fill="#ffc8c8"/>
<rect x="191.20" y="470.17" width="53.10" height="11.11" fill="#fff"/>
<rect x="244.30" y="470.17" width="46.00" height="11.11" fill="#e0e0ff"/>
<rect x="290.30" y="470.17" width="45.20" height="11.11" fill="#ffe1e1"/>
<rect x="191.20" y="481.28" width="53.10" height="11.11" fill="#fff"/>
<rect x="244.30" y="481.28" width="46.00" height="11.11" fill="#f83232"/>
<rect x="290.30" y="481.28" width="45.20" height="11.11" fill="#2844f6"/>
<rect x="191.20" y="492.39" width="53.10" height="11.11" fill="#fff"/>
<rect x="244.30" y="492.39" width="46.00" height="11.11" fill="#ffe1e1"/>
<rect x="290.30" y="492.39" width="45.20" height="11.11" fill="#e0e0ff"/>
<rect x="191.20" y="503.50" width="53.10" height="11.11" fill="#fff"/>
<rect x="244.30" y="503.50" width="46.00" height="11.11" fill="#c4c8ff"/>
<rect x="290.30" y="503.50" width="45.20" height="11.11" fill="#ffc8c8"/>
<rect x="191.20" y="514.61" width="53.10" height="11.11" fill="#fff"/>
<rect x="244.30" y="514.61" width="46.00" height="11.11" fill="#c4c8ff"/>
<rect x="290.30" y="514.61" width="45.20" height="11.11" fill="#ffe1e1"/>
<rect x="191.20" y="525.72" width="53.10" height="11.11" fill="#fff"/>
<rect x="244.30" y="525.72" width="46.00" height="11.11" fill="#ffc8c8"/>
<rect x="290.30" y="525.72" width="45.20" height="11.11" fill="#b8bcff"/>
<rect x="191.20" y="536.83" width="53.10" height="11.11" fill="#fff"/>
<rect x="244.30" y="536.83" width="46.00" height="11.11" fill="#ffc8c8"/>
<rect x="290.30" y="536.83" width="45.20" height="11.11" fill="#d4d6ff"/>
<line x1="191.20" y1="370.30" x2="191.20" y2="547.94" stroke="rgba(0,0,0,0.4)" stroke-width="0.8"/>
<line x1="244.30" y1="370.30" x2="244.30" y2="547.94" stroke="rgba(0,0,0,0.4)" stroke-width="0.8"/>
<line x1="290.30" y1="370.30" x2="290.30" y2="547.94" stroke="rgba(0,0,0,0.4)" stroke-width="0.8"/>
<line x1="335.50" y1="370.30" x2="335.50" y2="547.94" stroke="rgba(0,0,0,0.4)" stroke-width="0.8"/>
<line x1="191.20" y1="370.30" x2="335.50" y2="370.30" stroke="rgba(0,0,0,0.4)" stroke-width="0.8"/>
<line x1="244.30" y1="381.35" x2="335.50" y2="381.35" stroke="rgba(0,0,0,0.4)" stroke-width="0.8"/>
<line x1="191.20" y1="392.40" x2="335.50" y2="392.40" stroke="rgba(0,0,0,0.4)" stroke-width="0.8"/>
<line x1="191.20" y1="403.51" x2="335.50" y2="403.51" stroke="rgba(0,0,0,0.4)" stroke-width="0.8"/>
<line x1="191.20" y1="414.62" x2="335.50" y2="414.62" stroke="rgba(0,0,0,0.4)" stroke-width="0.8"/>
<line x1="191.20" y1="425.73" x2="335.50" y2="425.73" stroke="rgba(0,0,0,0.4)" stroke-width="0.8"/>
<line x1="191.20" y1="436.84" x2="335.50" y2="436.84" stroke="rgba(0,0,0,0.4)" stroke-width="0.8"/>
<line x1="191.20" y1="447.95" x2="335.50" y2="447.95" stroke="rgba(0,0,0,0.4)" stroke-width="0.8"/>
<line x1="191.20" y1="459.06" x2="335.50" y2="459.06" stroke="rgba(0,0,0,0.4)" stroke-width="0.8"/>
<line x1="191.20" y1="470.17" x2="335.50" y2="470.17" stroke="rgba(0,0,0,0.4)" stroke-width="0.8"/>
<line x1="191.20" y1="481.28" x2="335.50" y2="481.28" stroke="rgba(0,0,0,0.4)" stroke-width="0.8"/>
<line x1="191.20" y1="492.39" x2="335.50" y2="492.39" stroke="rgba(0,0,0,0.4)" stroke-width="0.8"/>
<line x1="191.20" y1="503.50" x2="335.50" y2="503.50" stroke="rgba(0,0,0,0.4)" stroke-width="0.8"/>
<line x1="191.20" y1="514.61" x2="335.50" y2="514.61" stroke="rgba(0,0,0,0.4)" stroke-width="0.8"/>
<line x1="191.20" y1="525.72" x2="335.50" y2="525.72" stroke="rgba(0,0,0,0.4)" stroke-width="0.8"/>
<line x1="191.20" y1="536.83" x2="335.50" y2="536.83" stroke="rgba(0,0,0,0.4)" stroke-width="0.8"/>
<line x1="191.20" y1="547.94" x2="335.50" y2="547.94" stroke="rgba(0,0,0,0.4)" stroke-width="0.8"/>
<text x="217.75" y="384.35" font-size="6.6" font-weight="bold" text-anchor="middle" fill="#000" stroke="#000" stroke-width="0.22" >Antibody</text>
<text x="267.30" y="379.22" font-size="6.6" font-weight="bold" text-anchor="middle" fill="#000" stroke="#000" stroke-width="0.22" >Fold change</text>
<text x="312.90" y="379.22" font-size="6.6" font-weight="bold" text-anchor="middle" fill="#000" stroke="#000" stroke-width="0.22" >Fold change</text>
<text x="267.30" y="389.88" font-size="6.6" font-weight="bold" text-anchor="middle" fill="#000" stroke="#000" stroke-width="0.22" >N+HIF1<tspan font-family="Liberation Serif" font-size="7.4">&#945;</tspan>/ N</text>
<text x="312.90" y="389.88" font-size="6.6" font-weight="bold" text-anchor="middle" fill="#000" stroke="#000" stroke-width="0.22" >siHIF-1<tspan font-family="Liberation Serif" font-size="7.4">&#945;</tspan>/ H</text>
<text x="217.75" y="400.56" font-size="6.6" font-weight="bold" text-anchor="middle" fill="#000" stroke="#000" stroke-width="0.22" >Endostatin</text>
<text x="267.30" y="400.56" font-size="6.6" font-weight="bold" text-anchor="middle" fill="#000" stroke="#000" stroke-width="0.22" >0.153</text>
<text x="312.90" y="400.56" font-size="6.6" font-weight="bold" text-anchor="middle" fill="#000" stroke="#000" stroke-width="0.22" >0.565</text>
<text x="217.75" y="411.67" font-size="6.6" font-weight="bold" text-anchor="middle" fill="#000" stroke="#000" stroke-width="0.22" >PDGF-BB</text>
<text x="267.30" y="411.67" font-size="6.6" font-weight="bold" text-anchor="middle" fill="#000" stroke="#000" stroke-width="0.22" >1.325</text>
<text x="312.90" y="411.67" font-size="6.6" font-weight="bold" text-anchor="middle" fill="#000" stroke="#000" stroke-width="0.22" >0.753</text>
<text x="217.75" y="422.78" font-size="6.6" font-weight="bold" text-anchor="middle" fill="#000" stroke="#000" stroke-width="0.22" >Artemin</text>
<text x="267.30" y="422.78" font-size="6.6" font-weight="bold" text-anchor="middle" fill="#000" stroke="#000" stroke-width="0.22" >0.753</text>
<text x="312.90" y="422.78" font-size="6.6" font-weight="bold" text-anchor="middle" fill="#000" stroke="#000" stroke-width="0.22" >1.323</text>
<text x="217.75" y="433.89" font-size="6.6" font-weight="bold" text-anchor="middle" fill="#000" stroke="#000" stroke-width="0.22" >EMAP-II</text>
<text x="267.30" y="433.89" font-size="6.6" font-weight="bold" text-anchor="middle" fill="#000" stroke="#000" stroke-width="0.22" >0.746</text>
<text x="312.90" y="433.89" font-size="6.6" font-weight="bold" text-anchor="middle" fill="#000" stroke="#000" stroke-width="0.22" >1.378</text>
<text x="217.75" y="445.00" font-size="6.6" font-weight="bold" text-anchor="middle" fill="#000" stroke="#000" stroke-width="0.22" >ENA-78</text>
<text x="267.30" y="445.00" font-size="6.6" font-weight="bold" text-anchor="middle" fill="#000" stroke="#000" stroke-width="0.22" >0.313</text>
<text x="312.90" y="445.00" font-size="6.6" font-weight="bold" text-anchor="middle" fill="#000" stroke="#000" stroke-width="0.22" >2.302</text>
<text x="217.75" y="456.11" font-size="6.6" font-weight="bold" text-anchor="middle" fill="#000" stroke="#000" stroke-width="0.22" >Galectin-1</text>
<text x="267.30" y="456.11" font-size="6.6" font-weight="bold" text-anchor="middle" fill="#000" stroke="#000" stroke-width="0.22" >1.215</text>
<text x="312.90" y="456.11" font-size="6.6" font-weight="bold" text-anchor="middle" fill="#000" stroke="#000" stroke-width="0.22" >0.717</text>
<text x="217.75" y="467.22" font-size="6.6" font-weight="bold" text-anchor="middle" fill="#000" stroke="#000" stroke-width="0.22" >GRO-gamma</text>
<text x="267.30" y="467.22" font-size="6.6" font-weight="bold" text-anchor="middle" fill="#000" stroke="#000" stroke-width="0.22" >0.882</text>
<text x="312.90" y="467.22" font-size="6.6" font-weight="bold" text-anchor="middle" fill="#000" stroke="#000" stroke-width="0.22" >1.592</text>
<text x="217.75" y="478.33" font-size="6.6" font-weight="bold" text-anchor="middle" fill="#000" stroke="#000" stroke-width="0.22" >IP-10</text>
<text x="267.30" y="478.33" font-size="6.6" font-weight="bold" text-anchor="middle" fill="#000" stroke="#000" stroke-width="0.22" >0.742</text>
<text x="312.90" y="478.33" font-size="6.6" font-weight="bold" text-anchor="middle" fill="#000" stroke="#000" stroke-width="0.22" >1.342</text>
<text x="217.75" y="489.44" font-size="6.6" font-weight="bold" text-anchor="middle" fill="#000" stroke="#000" stroke-width="0.22" >Midkine</text>
<text x="267.30" y="489.44" font-size="6.6" font-weight="bold" text-anchor="middle" fill="#000" stroke="#000" stroke-width="0.22" >3.215</text>
<text x="312.90" y="489.44" font-size="6.6" font-weight="bold" text-anchor="middle" fill="#000" stroke="#000" stroke-width="0.22" >0.320</text>
<text x="217.75" y="500.55" font-size="6.6" font-weight="bold" text-anchor="middle" fill="#000" stroke="#000" stroke-width="0.22" >NT-4</text>
<text x="267.30" y="500.55" font-size="6.6" font-weight="bold" text-anchor="middle" fill="#000" stroke="#000" stroke-width="0.22" >1.257</text>
<text x="312.90" y="500.55" font-size="6.6" font-weight="bold" text-anchor="middle" fill="#000" stroke="#000" stroke-width="0.22" >0.762</text>
<text x="217.75" y="511.66" font-size="6.6" font-weight="bold" text-anchor="middle" fill="#000" stroke="#000" stroke-width="0.22" >sTRAIL/APO2L</text>
<text x="267.30" y="511.66" font-size="6.6" font-weight="bold" text-anchor="middle" fill="#000" stroke="#000" stroke-width="0.22" >0.622</text>
<text x="312.90" y="511.66" font-size="6.6" font-weight="bold" text-anchor="middle" fill="#000" stroke="#000" stroke-width="0.22" >1.561</text>
<text x="217.75" y="522.76" font-size="6.6" font-weight="bold" text-anchor="middle" fill="#000" stroke="#000" stroke-width="0.22" >Visfatin</text>
<text x="267.30" y="522.76" font-size="6.6" font-weight="bold" text-anchor="middle" fill="#000" stroke="#000" stroke-width="0.22" >0.622</text>
<text x="312.90" y="522.76" font-size="6.6" font-weight="bold" text-anchor="middle" fill="#000" stroke="#000" stroke-width="0.22" >1.341</text>
<text x="217.75" y="533.88" font-size="6.6" font-weight="bold" text-anchor="middle" fill="#000" stroke="#000" stroke-width="0.22" >HDAC1</text>
<text x="267.30" y="533.88" font-size="6.6" font-weight="bold" text-anchor="middle" fill="#000" stroke="#000" stroke-width="0.22" >1.522</text>
<text x="312.90" y="533.88" font-size="6.6" font-weight="bold" text-anchor="middle" fill="#000" stroke="#000" stroke-width="0.22" >0.589</text>
<text x="217.75" y="544.99" font-size="6.6" font-weight="bold" text-anchor="middle" fill="#000" stroke="#000" stroke-width="0.22" >MMP-2</text>
<text x="267.30" y="544.99" font-size="6.6" font-weight="bold" text-anchor="middle" fill="#000" stroke="#000" stroke-width="0.22" >1.533</text>
<text x="312.90" y="544.99" font-size="6.6" font-weight="bold" text-anchor="middle" fill="#000" stroke="#000" stroke-width="0.22" >0.686</text>
<text x="185.00" y="489.70" font-size="9.2" font-family='"DejaVu Sans", sans-serif' text-anchor="middle" fill="#111" stroke="#111" stroke-width="0.35">&#9733;</text>
<rect x="338.30" y="369.70" width="63.90" height="9.70" fill="#fff"/>
<rect x="338.30" y="379.40" width="32.10" height="9.80" fill="#fff"/>
<rect x="370.40" y="379.40" width="31.80" height="9.80" fill="#9a0000"/>
<rect x="338.30" y="389.20" width="32.10" height="9.80" fill="#fff"/>
<rect x="370.40" y="389.20" width="31.80" height="9.80" fill="#cc0000"/>
<rect x="338.30" y="399.00" width="32.10" height="9.80" fill="#fff"/>
<rect x="370.40" y="399.00" width="31.80" height="9.80" fill="#ff0000"/>
<rect x="338.30" y="408.80" width="32.10" height="9.80" fill="#fff"/>
<rect x="370.40" y="408.80" width="31.80" height="9.80" fill="#ff3a3a"/>
<rect x="338.30" y="418.60" width="32.10" height="9.80" fill="#fff"/>
<rect x="370.40" y="418.60" width="31.80" height="9.80" fill="#ff6666"/>
<rect x="338.30" y="428.40" width="32.10" height="9.80" fill="#fff"/>
<rect x="370.40" y="428.40" width="31.80" height="9.80" fill="#ff9c9c"/>
<rect x="338.30" y="438.20" width="32.10" height="9.80" fill="#fff"/>
<rect x="370.40" y="438.20" width="31.80" height="9.80" fill="#ffc8c8"/>
<rect x="338.30" y="448.00" width="32.10" height="9.80" fill="#fff"/>
<rect x="370.40" y="448.00" width="31.80" height="9.80" fill="#ffe4e4"/>
<rect x="338.30" y="457.80" width="32.10" height="9.80" fill="#fff"/>
<rect x="370.40" y="457.80" width="31.80" height="9.80" fill="#ffffff"/>
<rect x="338.30" y="467.60" width="32.10" height="9.80" fill="#fff"/>
<rect x="370.40" y="467.60" width="31.80" height="9.80" fill="#e2e2ff"/>
<rect x="338.30" y="477.40" width="32.10" height="9.80" fill="#fff"/>
<rect x="370.40" y="477.40" width="31.80" height="9.80" fill="#c8c8ff"/>
<rect x="338.30" y="487.20" width="32.10" height="9.80" fill="#fff"/>
<rect x="370.40" y="487.20" width="31.80" height="9.80" fill="#a0a8ff"/>
<rect x="338.30" y="497.00" width="32.10" height="9.80" fill="#fff"/>
<rect x="370.40" y="497.00" width="31.80" height="9.80" fill="#5262f5"/>
<rect x="338.30" y="506.80" width="32.10" height="9.80" fill="#fff"/>
<rect x="370.40" y="506.80" width="31.80" height="9.80" fill="#2434f6"/>
<rect x="338.30" y="516.60" width="32.10" height="9.80" fill="#fff"/>
<rect x="370.40" y="516.60" width="31.80" height="9.80" fill="#0000f0"/>
<rect x="338.30" y="526.40" width="32.10" height="9.80" fill="#fff"/>
<rect x="370.40" y="526.40" width="31.80" height="9.80" fill="#04087e"/>
<rect x="338.30" y="536.20" width="32.10" height="9.80" fill="#fff"/>
<rect x="370.40" y="536.20" width="31.80" height="9.80" fill="#000050"/>
<line x1="338.30" y1="369.70" x2="338.30" y2="546.00" stroke="rgba(0,0,0,0.4)" stroke-width="0.8"/>
<line x1="370.40" y1="369.70" x2="370.40" y2="546.00" stroke="rgba(0,0,0,0.4)" stroke-width="0.8"/>
<line x1="402.20" y1="369.70" x2="402.20" y2="546.00" stroke="rgba(0,0,0,0.4)" stroke-width="0.8"/>
<line x1="338.30" y1="369.70" x2="402.20" y2="369.70" stroke="rgba(0,0,0,0.4)" stroke-width="0.8"/>
<line x1="338.30" y1="379.40" x2="402.20" y2="379.40" stroke="rgba(0,0,0,0.4)" stroke-width="0.8"/>
<line x1="338.30" y1="389.20" x2="402.20" y2="389.20" stroke="rgba(0,0,0,0.4)" stroke-width="0.8"/>
<line x1="338.30" y1="399.00" x2="402.20" y2="399.00" stroke="rgba(0,0,0,0.4)" stroke-width="0.8"/>
<line x1="338.30" y1="408.80" x2="402.20" y2="408.80" stroke="rgba(0,0,0,0.4)" stroke-width="0.8"/>
<line x1="338.30" y1="418.60" x2="402.20" y2="418.60" stroke="rgba(0,0,0,0.4)" stroke-width="0.8"/>
<line x1="338.30" y1="428.40" x2="402.20" y2="428.40" stroke="rgba(0,0,0,0.4)" stroke-width="0.8"/>
<line x1="338.30" y1="438.20" x2="402.20" y2="438.20" stroke="rgba(0,0,0,0.4)" stroke-width="0.8"/>
<line x1="338.30" y1="448.00" x2="402.20" y2="448.00" stroke="rgba(0,0,0,0.4)" stroke-width="0.8"/>
<line x1="338.30" y1="457.80" x2="402.20" y2="457.80" stroke="rgba(0,0,0,0.4)" stroke-width="0.8"/>
<line x1="338.30" y1="467.60" x2="402.20" y2="467.60" stroke="rgba(0,0,0,0.4)" stroke-width="0.8"/>
<line x1="338.30" y1="477.40" x2="402.20" y2="477.40" stroke="rgba(0,0,0,0.4)" stroke-width="0.8"/>
<line x1="338.30" y1="487.20" x2="402.20" y2="487.20" stroke="rgba(0,0,0,0.4)" stroke-width="0.8"/>
<line x1="338.30" y1="497.00" x2="402.20" y2="497.00" stroke="rgba(0,0,0,0.4)" stroke-width="0.8"/>
<line x1="338.30" y1="506.80" x2="402.20" y2="506.80" stroke="rgba(0,0,0,0.4)" stroke-width="0.8"/>
<line x1="338.30" y1="516.60" x2="402.20" y2="516.60" stroke="rgba(0,0,0,0.4)" stroke-width="0.8"/>
<line x1="338.30" y1="526.40" x2="402.20" y2="526.40" stroke="rgba(0,0,0,0.4)" stroke-width="0.8"/>
<line x1="338.30" y1="536.20" x2="402.20" y2="536.20" stroke="rgba(0,0,0,0.4)" stroke-width="0.8"/>
<line x1="338.30" y1="546.00" x2="402.20" y2="546.00" stroke="rgba(0,0,0,0.4)" stroke-width="0.8"/>
<text x="354.35" y="377.25" font-size="6.0" font-weight="bold" text-anchor="middle" fill="#000" stroke="#000" stroke-width="0.22" >Fold</text>
<text x="386.30" y="377.25" font-size="6.0" font-weight="bold" text-anchor="middle" fill="#000" stroke="#000" stroke-width="0.22" >Color</text>
<text x="354.35" y="387.20" font-size="6.0" font-weight="bold" text-anchor="middle" fill="#000" stroke="#000" stroke-width="0.22" >&gt;10</text>
<text x="354.35" y="397.00" font-size="6.0" font-weight="bold" text-anchor="middle" fill="#000" stroke="#000" stroke-width="0.22" >&gt;7.5</text>
<text x="354.35" y="406.80" font-size="6.0" font-weight="bold" text-anchor="middle" fill="#000" stroke="#000" stroke-width="0.22" >&gt;5</text>
<text x="354.35" y="416.60" font-size="6.0" font-weight="bold" text-anchor="middle" fill="#000" stroke="#000" stroke-width="0.22" >&gt;3</text>
<text x="354.35" y="426.40" font-size="6.0" font-weight="bold" text-anchor="middle" fill="#000" stroke="#000" stroke-width="0.22" >&gt;2</text>
<text x="354.35" y="436.20" font-size="6.0" font-weight="bold" text-anchor="middle" fill="#000" stroke="#000" stroke-width="0.22" >&gt;1.75</text>
<text x="354.35" y="446.00" font-size="6.0" font-weight="bold" text-anchor="middle" fill="#000" stroke="#000" stroke-width="0.22" >&gt;1.5</text>
<text x="354.35" y="455.80" font-size="6.0" font-weight="bold" text-anchor="middle" fill="#000" stroke="#000" stroke-width="0.22" >&gt;1.25</text>
<text x="354.35" y="465.60" font-size="6.0" font-weight="bold" text-anchor="middle" fill="#000" stroke="#000" stroke-width="0.22" >1</text>
<text x="354.35" y="475.40" font-size="6.0" font-weight="bold" text-anchor="middle" fill="#000" stroke="#000" stroke-width="0.22" >&lt;0.8</text>
<text x="354.35" y="485.20" font-size="6.0" font-weight="bold" text-anchor="middle" fill="#000" stroke="#000" stroke-width="0.22" >&lt;0.66</text>
<text x="354.35" y="495.00" font-size="6.0" font-weight="bold" text-anchor="middle" fill="#000" stroke="#000" stroke-width="0.22" >&lt;0.57</text>
<text x="354.35" y="504.80" font-size="6.0" font-weight="bold" text-anchor="middle" fill="#000" stroke="#000" stroke-width="0.22" >&lt;0.5</text>
<text x="354.35" y="514.60" font-size="6.0" font-weight="bold" text-anchor="middle" fill="#000" stroke="#000" stroke-width="0.22" >&lt;0.33</text>
<text x="354.35" y="524.40" font-size="6.0" font-weight="bold" text-anchor="middle" fill="#000" stroke="#000" stroke-width="0.22" >&lt;0.2</text>
<text x="354.35" y="534.20" font-size="6.0" font-weight="bold" text-anchor="middle" fill="#000" stroke="#000" stroke-width="0.22" >&lt;0.13</text>
<text x="354.35" y="544.00" font-size="6.0" font-weight="bold" text-anchor="middle" fill="#000" stroke="#000" stroke-width="0.22" >&lt;0.1</text>
</svg>
</body></html>
